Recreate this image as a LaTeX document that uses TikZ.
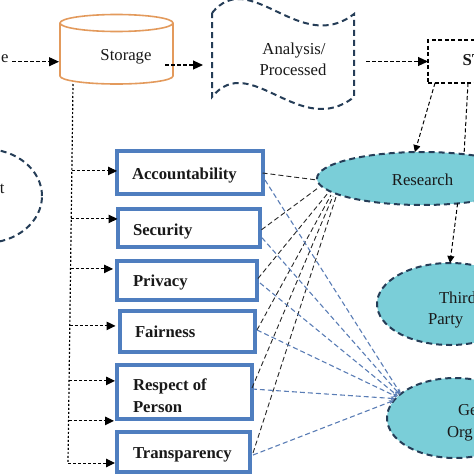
\documentclass[tikz,border=0pt]{standalone}
\usepackage{fontspec}
\setmainfont{Liberation Serif}
\usetikzlibrary{arrows.meta,shapes.geometric,calc}
\definecolor{navy}{HTML}{253D57}
\definecolor{boxblue}{HTML}{4F7EBF}
\definecolor{lineblue}{HTML}{5A7DB5}
\definecolor{cyanfill}{HTML}{7ACED8}
\definecolor{orangeline}{HTML}{E39A5C}
\newcommand{\dgfont}{\fontsize{16.7}{20}\selectfont}
\begin{document}
\begin{tikzpicture}[x=1pt,y=-1pt,
  txt/.style={font=\dgfont, inner sep=0, outer sep=0, text=black!90},
  lbl/.style={font=\dgfont\bfseries, anchor=base west, inner sep=0, outer sep=0, text=black!90},
  navydash/.style={draw=navy, line width=2pt, dash pattern=on 6pt off 4pt},
  ethic/.style={rectangle, draw=boxblue, line width=4pt, fill=white, inner sep=0, outer sep=0},
  oval/.style={ellipse, fill=cyanfill, navydash, inner sep=0, outer sep=0},
  flow/.style={black, line width=1.1pt, dash pattern=on 3.5pt off 2.5pt, -{Triangle[length=10pt,width=9pt]}},
  thinflow/.style={black, line width=1pt, dash pattern=on 4pt off 2.5pt, -{Triangle[length=7pt,width=7pt]}},
  plain/.style={black, line width=1pt, dash pattern=on 4pt off 2.5pt},
  trunk/.style={black, line width=1.2pt, dash pattern=on 2pt off 2pt},
  branch/.style={black, line width=1pt, dash pattern=on 3pt off 2pt, -{Triangle[length=9pt,width=8.5pt]}},
  blk/.style={black!85, line width=0.9pt, dash pattern=on 5pt off 3pt},
  blu/.style={lineblue, line width=1.1pt, dash pattern=on 5pt off 3pt, -{Stealth[length=5pt,width=4pt]}}
]
\useasboundingbox (0,0) rectangle (474,474);
\clip (0,0) rectangle (474,474);

% ---------- storage cylinder ----------
\filldraw[fill=white, draw=orangeline, line width=1.6pt]
  (60,23) -- (60,76) arc[start angle=180, end angle=0, x radius=56.5, y radius=8]
  -- (173,23) arc[start angle=0, end angle=-180, x radius=56.5, y radius=8.5] -- cycle;
\draw[orangeline, line width=1.6pt] (60,23) arc[start angle=180, end angle=0, x radius=56.5, y radius=8.5];
\node[txt, anchor=base] (storage) at (126,60) {Storage};
\coordinate (cylW) at (59,61.7);
\coordinate (cylE) at (165,65);
\coordinate (cylB) at (73,84);

% ---------- analysis / processed ----------
\filldraw[navydash, fill=white]
  (212,13) .. controls (250,-34) and (300,56) .. (354,14) -- (354,97)
  .. controls (300,140) and (250,50) .. (212,97) -- cycle;
\node[txt, anchor=base] (ana1) at (294,54.5) {Analysis/};
\node[txt, anchor=base] (ana2) at (293,75.7) {Processed};
\coordinate (anaW) at (203,65);
\coordinate (anaE) at (366,61.5);

% ---------- ST box ----------
\node[rectangle, draw=black, line width=1.1pt, dash pattern=on 4pt off 2.5pt,
      minimum width=70, minimum height=43, inner sep=0, outer sep=0, anchor=north west] (st) at (428,40) {};
\node[lbl] (stL) at (462.5,65.5) {ST};

% ---------- source fragments at left edge ----------
\node[txt, anchor=base east] (src) at (8.5,62) {e};
\node[ellipse, draw=navy, line width=2pt, dash pattern=on 6pt off 4pt,
      minimum width=114, minimum height=94, inner sep=0] (leftov) at (-15,196) {};
\node[txt, anchor=base east] (leftL) at (4.5,193) {t};

% ---------- ovals ----------
\node[oval, minimum width=210, minimum height=53] (res) at (422,178.5) {};
\node[txt, anchor=base] (resL) at (422.5,185.7) {Research};
\node[oval, minimum width=146, minimum height=82] (third) at (450,304) {};
\node[txt, anchor=base west] (thirdL1) at (439,303.3) {Third};
\node[txt, anchor=base west] (thirdL2) at (428,324) {Party};
\node[oval, minimum width=136, minimum height=80] (gov) at (455,418) {};
\node[txt, anchor=base west] (govL1) at (458,415) {Ge};
\node[txt, anchor=base west] (govL2) at (447,437.7) {Org};

% ---------- ethic boxes ----------
\node[ethic, minimum width=145.5, minimum height=43] (acc) at (189.75,172.5) {};
\node[ethic, minimum width=142, minimum height=38.5] (sec) at (188.5,227.75) {};
\node[ethic, minimum width=140, minimum height=39] (priv) at (187,280.5) {};
\node[ethic, minimum width=135.5, minimum height=41] (fair) at (187.25,331.5) {};
\node[ethic, minimum width=135, minimum height=54] (resp) at (184.5,392) {};
\node[ethic, minimum width=133, minimum height=40] (trans) at (183.5,452) {};
\node[lbl] (accL) at (132,179.3) {Accountability};
\node[lbl] (secL) at (133,235) {Security};
\node[lbl] (privL) at (133,286.7) {Privacy};
\node[lbl] (fairL) at (135,337.7) {Fairness};
\node[lbl] (respL1) at (133,390.7) {Respect of};
\node[lbl] (respL2) at (133,412.3) {Person};
\node[lbl] (transL) at (133,458.3) {Transparency};

% ---------- top flow ----------
\draw[flow] (src.base east) ++(3.5,-0.3) coordinate (srcE) (srcE) -- (cylW);
\draw[flow] (cylE) -- (anaW);
\draw[flow] (anaE) -- (st.west |- anaE);
\draw[thinflow] ($(st.south west)+(7,0)$) -- (res.105);
\draw[plain] ($(st.south west)+(40,0)$) -- (res.30);
\draw[thinflow] (res.-35.5) -- (third.north);

% ---------- trunk and branches ----------
\coordinate (trunkBot) at (68,463);
\draw[trunk] (cylB) -- (trunkBot);
\coordinate (b1) at ($(cylB)!(0,170)!(trunkBot)$);
\coordinate (b2) at ($(cylB)!(0,218)!(trunkBot)$);
\coordinate (b3) at ($(cylB)!(0,268)!(trunkBot)$);
\coordinate (b4) at ($(cylB)!(0,325)!(trunkBot)$);
\coordinate (b5) at ($(cylB)!(0,380)!(trunkBot)$);
\coordinate (b6) at ($(cylB)!(0,420)!(trunkBot)$);
\draw[branch] (b1) -- (b1 -| acc.west);
\draw[branch] (b2) -- (b2 -| sec.west);
\draw[branch, shorten >=4pt] (b3) -- (b3 -| priv.west);
\draw[branch, shorten >=4pt] (b4) -- (b4 -| fair.west);
\draw[branch, shorten >=2pt] (b5) -- (b5 -| resp.west);
\draw[branch, shorten >=3pt] (b6) -- (b6 -| resp.west);
\draw[branch, shorten >=2pt] (trunkBot) -- (trunkBot -| trans.west);

% ---------- hubs near research ----------
\coordinate (r1) at (317,180);
\coordinate (r2) at (318,188);
\coordinate (r3) at (328,193);
\coordinate (r4) at (331,195);
\coordinate (r5) at (333,196);
\coordinate (r6) at (336,197);
\draw[blk] ($(acc.east)+(0,0.5)$) -- (r1);
\draw[blk] ($(sec.east)+(2,2)$) -- (r2);
\draw[blk] ($(priv.east)+(1,-2)$) -- (r3);
\draw[blk] ($(fair.east)+(2,-1.5)$) -- (r4);
\draw[blk] ($(resp.east)+(0,-4)$) -- (r5);
\draw[blk] ($(trans.east)+(3,1)$) -- (r6);

% ---------- blue connectors to government ----------
\draw[blu] ($(acc.east)+(2.5,7.5)$) -- (gov.156);
\draw[blu] ($(sec.east)+(2.5,10)$) -- (gov.157.5);
\draw[blu] ($(priv.east)+(3,2.5)$) -- (gov.159);
\draw[blu] ($(fair.east)+(2,-1.5)$) -- (gov.160);
\draw[blu] ($(resp.east)+(0,-3)$) -- (gov.162);
\draw[blu] ($(trans.east)+(3,3)$) -- (gov.164);
\end{tikzpicture}
\end{document}
